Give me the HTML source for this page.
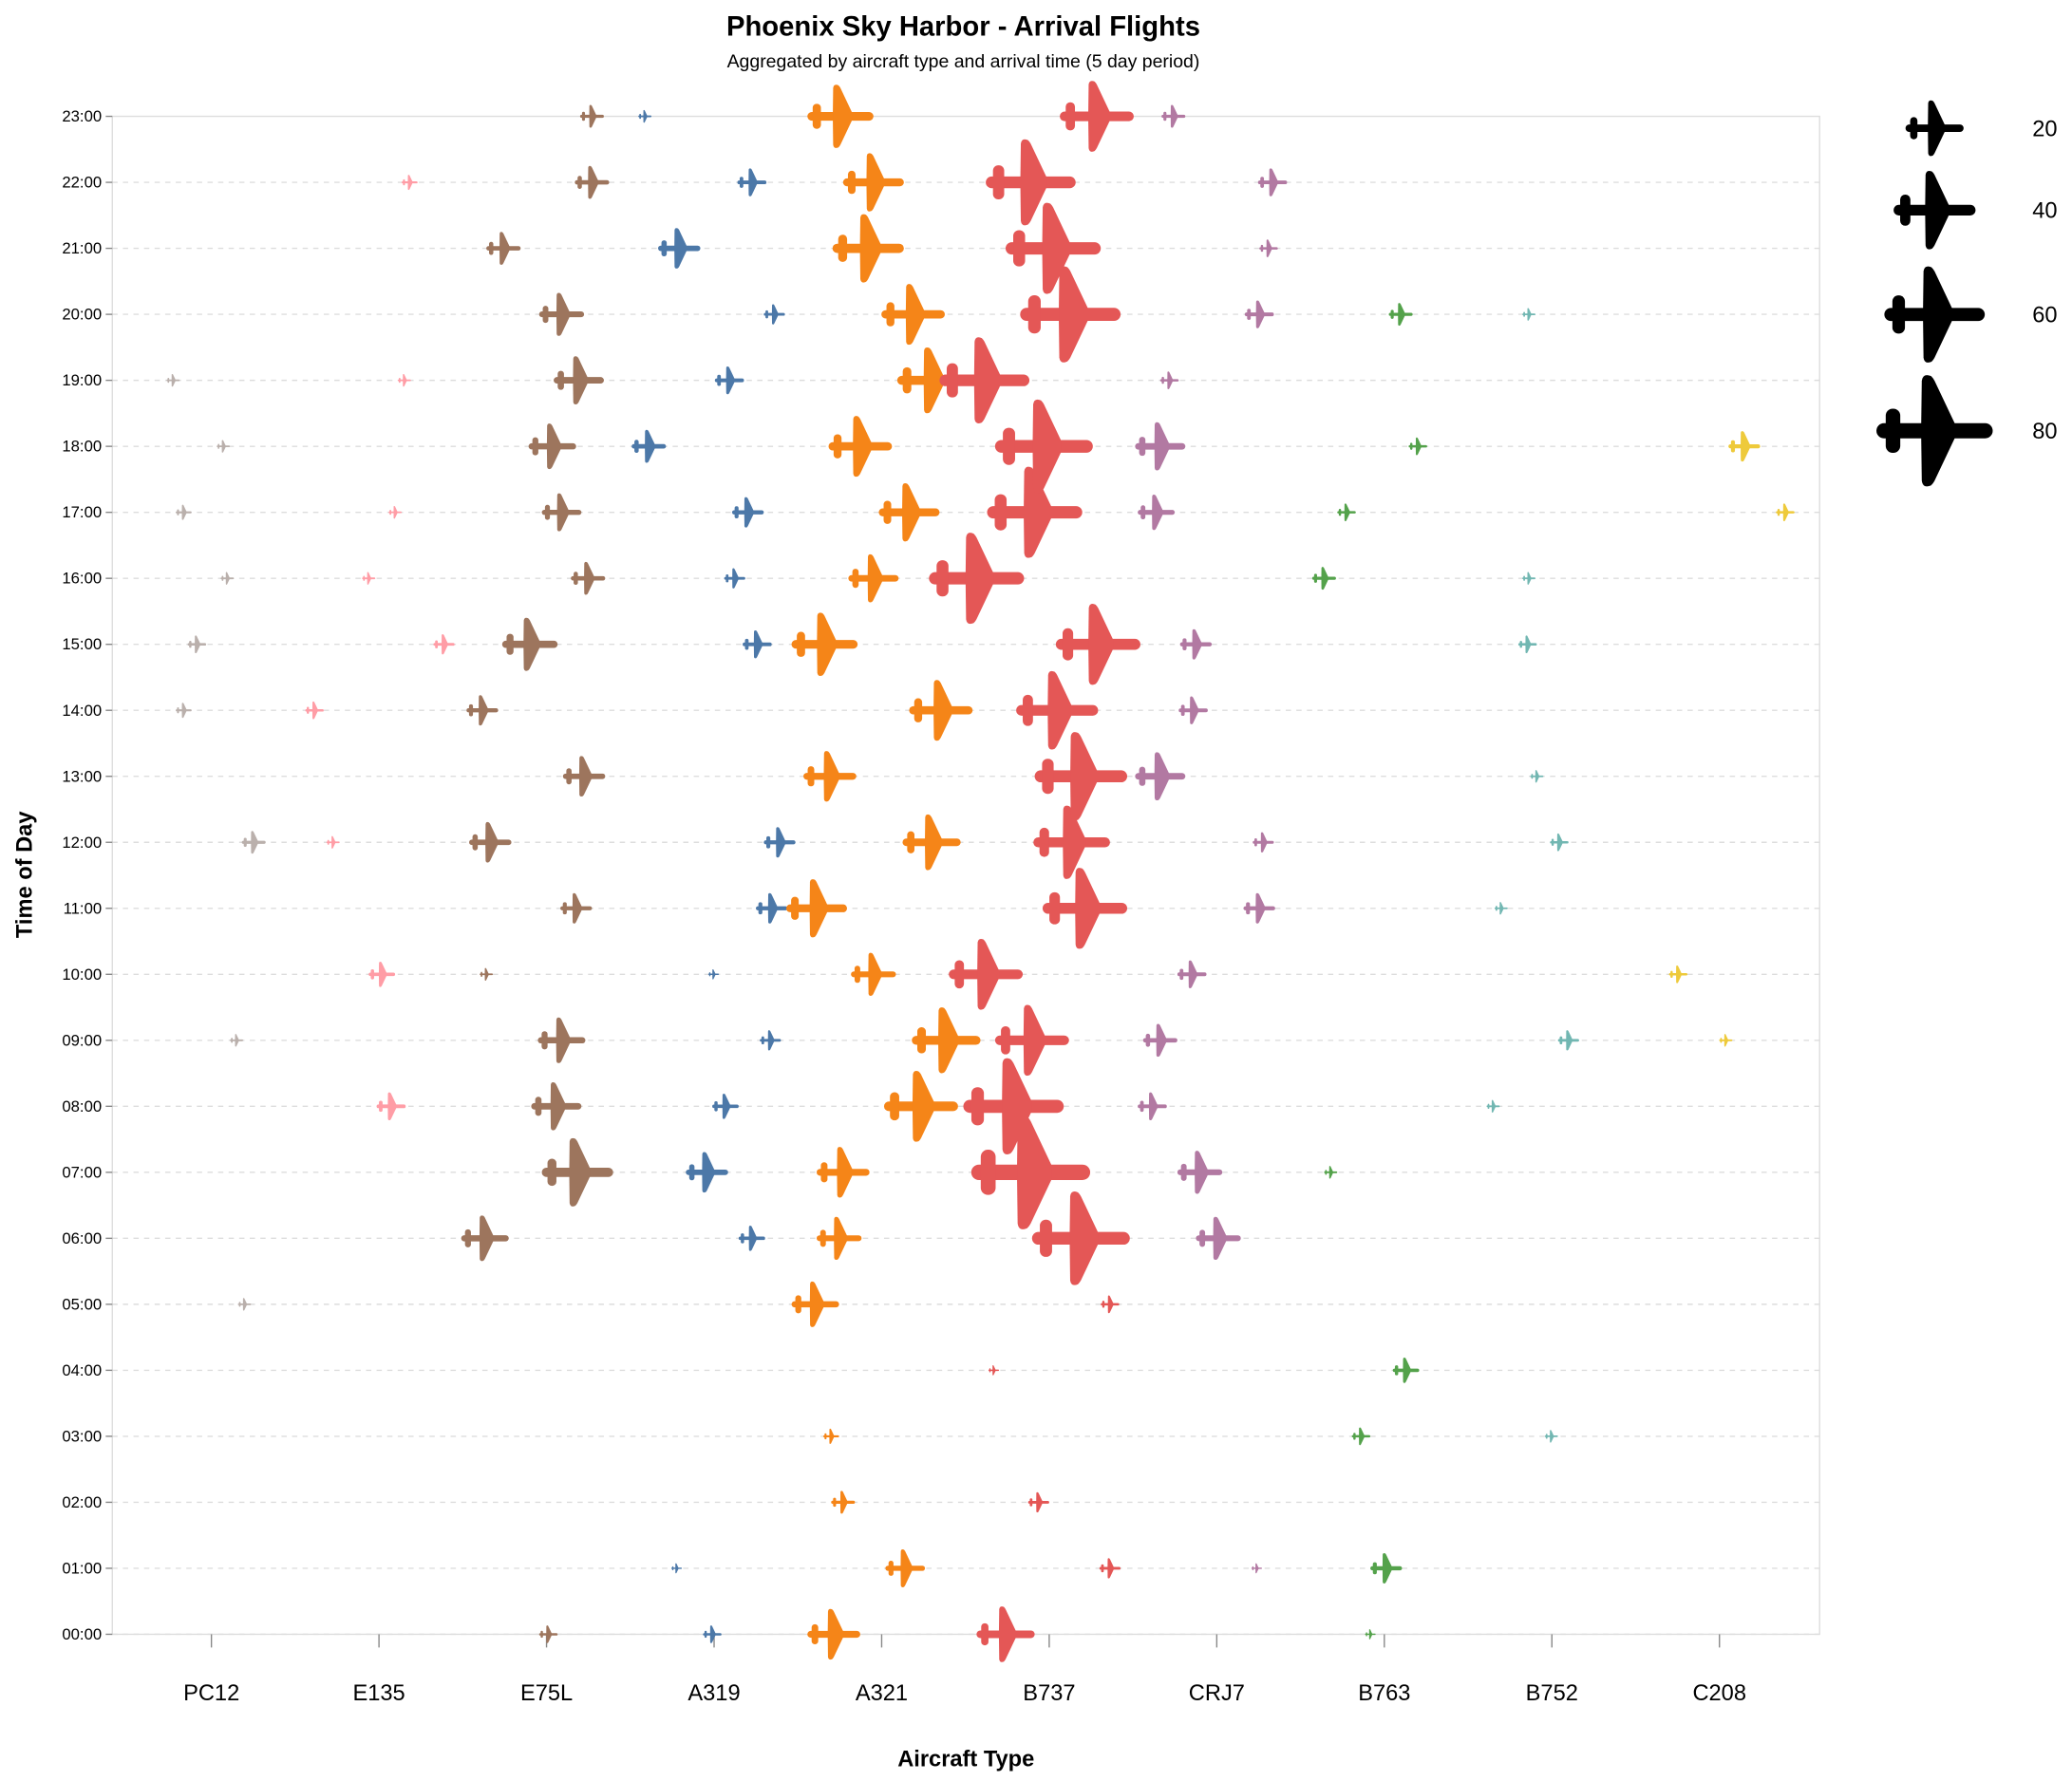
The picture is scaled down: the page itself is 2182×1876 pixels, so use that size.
<!DOCTYPE html>
<html><head><meta charset="utf-8"><style>html,body{margin:0;padding:0;background:#fff}svg{display:block}</style></head>
<body>
<svg width="2182" height="1876" viewBox="0 0 1568 1348" xmlns="http://www.w3.org/2000/svg" font-family="Liberation Sans, Arial, sans-serif">
<defs>
<symbol id="p" viewBox="-1 -1 2 2" overflow="visible">
<rect x="-1" y="-0.13" width="2" height="0.26" rx="0.13"/>
<path d="M-0.23 -0.1 L-0.22 -0.86 Q-0.2 -1 -0.06 -0.94 Q-0.02 -0.9 0 -0.86 L0.36 -0.1 L0.36 0.1 L0 0.86 Q-0.02 0.9 -0.06 0.94 Q-0.2 1 -0.22 0.86 L-0.23 0.1 Z"/>
<rect x="-0.84" y="-0.38" width="0.25" height="0.76" rx="0.12"/>
</symbol>
</defs>
<rect x="85" y="88" width="1292" height="1149" fill="none" stroke="#ddd" stroke-width="1"/>
<g id="grid" stroke="#ddd" stroke-dasharray="4,4" stroke-width="1"></g>
<g id="yt" font-size="12" text-anchor="end" fill="#000"></g>
<g id="xt" font-size="17" text-anchor="middle" fill="#000"></g>
<g id="pl"></g>
<text x="729" y="27" font-size="21" font-weight="bold" text-anchor="middle">Phoenix Sky Harbor - Arrival Flights</text>
<text x="729" y="51" font-size="14" text-anchor="middle">Aggregated by aircraft type and arrival time (5 day period)</text>
<text x="731" y="1337" font-size="17" font-weight="bold" text-anchor="middle">Aircraft Type</text>
<text x="24" y="662" font-size="17" font-weight="bold" text-anchor="middle" transform="rotate(-90 24 662)">Time of Day</text>
<g id="lg"></g>
</svg>
<script>
const NS="http://www.w3.org/2000/svg";
function el(t,a,p,txt){const e=document.createElementNS(NS,t);for(const k in a)e.setAttribute(k,a[k]);if(txt!==undefined)e.textContent=txt;document.getElementById(p).appendChild(e);return e;}
const Y=h=>1237-h*49.956;
for(let h=0;h<24;h++){const y=Y(h);
 if(h<23)el('line',{x1:85,x2:1377,y1:y,y2:y},'grid');
 el('line',{x1:80,x2:85,y1:y,y2:y,stroke:'#888'},'yt');
 el('text',{x:77,y:y+4},'yt',(h<10?'0':'')+h+':00');}
const cats=['PC12','E135','E75L','A319','A321','B737','CRJ7','B763','B752','C208'];
cats.forEach((c,i)=>{const x=160+i*126.8;el('line',{x1:x,x2:x,y1:1237,y2:1247,stroke:'#888'},'xt');el('text',{x:x,y:1287},'xt',c);});
const C={P:'#bab0ac',E:'#ff9da6',L:'#9d755d',A:'#4c78a8',O:'#f58518',R:'#e45756',U:'#b279a2',G:'#54a24b',T:'#72b7b2',Y:'#eeca3b'};
const D={
23:[['L',448,9],['A',488,5],['O',636,25],['R',830,28],['U',888,9]],
22:[['E',310,6],['L',448,13],['A',569,11],['O',661,23],['R',780,34],['U',963,11]],
21:[['L',381,13],['A',514,16],['O',657,27],['R',797,36],['U',960,7]],
20:[['L',425,17],['A',586,8],['O',691,24],['R',810,38],['U',953,11],['G',1060,9],['T',1157,5]],
19:[['P',131,5],['E',306,5],['L',438,19],['A',552,11],['O',705,26],['R',745,34],['U',885,7]],
18:[['P',169,5],['L',418,18],['A',491,13],['O',651,24],['R',790,37],['U',878,19],['G',1073,7],['Y',1320,12]],
17:[['P',139,6],['E',299,5],['L',425,15],['A',566,12],['O',688,23],['R',783,36],['U',875,14],['G',1019,7],['Y',1351,7]],
16:[['P',172,5],['E',279,5],['L',445,13],['A',556,8],['O',661,19],['R',739,36],['G',1002,9],['T',1157,5]],
15:[['P',149,7],['E',336,8],['L',401,21],['A',573,11],['O',624,25],['R',831,32],['U',905,12],['T',1156,7]],
14:[['P',139,6],['E',238,7],['L',365,12],['O',712,24],['R',800,31],['U',903,11]],
13:[['L',442,16],['O',628,20],['R',818,35],['U',878,19],['T',1163,5]],
12:[['P',192,9],['E',252,5],['L',371,16],['A',590,12],['O',705,22],['R',811,29],['U',956,8],['T',1180,7]],
11:[['L',436,12],['A',584,12],['O',618,23],['R',821,32],['U',953,12],['T',1136,5]],
10:[['E',289,10],['L',368,5],['A',540,4],['O',661,17],['R',746,28],['U',902,11],['Y',1270,7]],
9:[['P',179,5],['L',425,18],['A',583,8],['O',716,26],['R',781,28],['U',878,13],['T',1187,8],['Y',1306,5]],
8:[['E',296,11],['L',421,19],['A',549,10],['O',697,28],['R',767,38],['U',872,11],['T',1130,5]],
7:[['L',437,27],['A',535,16],['O',638,20],['R',780,45],['U',908,17],['G',1007,5]],
6:[['L',367,18],['A',569,10],['O',635,17],['R',818,37],['U',922,17]],
5:[['P',185,5],['O',617,18],['R',840,7]],
4:[['R',752,4],['G',1064,10]],
3:[['O',629,6],['G',1030,7],['T',1174,5]],
2:[['O',638,9],['R',786,8]],
1:[['A',512,4],['O',685,15],['R',840,8],['U',951,4],['G',1049,12]],
0:[['L',415,7],['A',539,7],['O',631,20],['R',761,22],['G',1037,4]]};
function plane(g,x,y,h,f){const u=el('use',{x:x-h,y:y-h,width:2*h,height:2*h,fill:f},g);u.setAttribute('href','#p');}
for(const h in D)D[h].forEach(([c,x,s])=>plane('pl',x,Y(+h),s,C[c]));
[[20,97,22],[40,159,31],[60,238,38],[80,326,44]].forEach(([v,y,s])=>{plane('lg',1464,y,s,'#000');el('text',{x:1538,y:y+6,'font-size':17},'lg',v);});
</script>
</body></html>
